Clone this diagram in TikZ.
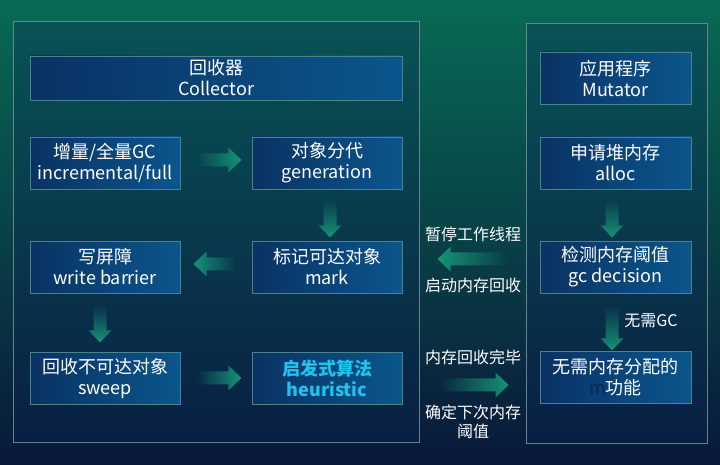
\documentclass[tikz,border=0pt]{standalone}
\usepackage{fontspec}
\setmainfont{Noto Sans CJK SC}
\usetikzlibrary{calc,fadings}
\definecolor{bgtop}{RGB}{8,106,84}
\definecolor{bgmid}{RGB}{11,60,88}
\definecolor{bgbot}{RGB}{9,24,58}
\definecolor{boxl}{RGB}{10,50,100}
\definecolor{boxr}{RGB}{10,86,140}
\definecolor{boxline}{RGB}{78,130,138}
\definecolor{frameline}{RGB}{110,140,150}
\definecolor{framefill}{RGB}{10,40,90}
\definecolor{arrc}{RGB}{22,148,118}
\definecolor{heur}{RGB}{30,195,240}
\definecolor{ghost}{RGB}{12,40,80}
\newcommand\rarrow[2]{\begin{scope}[shift={#1}]\fill[arrc,path fading=west] (0,-6.5) -- ({#2-13},-6.5) -- ({#2-13},-12.5) -- (#2,0) -- ({#2-13},12.5) -- ({#2-13},6.5) -- (0,6.5) -- cycle;\end{scope}}
\newcommand\larrow[2]{\begin{scope}[shift={#1}]\fill[arrc,path fading=east] (0,-6.5) -- ({-#2+13},-6.5) -- ({-#2+13},-12.5) -- (-#2,0) -- ({-#2+13},12.5) -- ({-#2+13},6.5) -- (0,6.5) -- cycle;\end{scope}}
\newcommand\darrow[2]{\begin{scope}[shift={#1}]\fill[arrc,path fading=north] (-6.5,0) -- (-6.5,{#2-12}) -- (-11.5,{#2-12}) -- (0,#2) -- (11.5,{#2-12}) -- (6.5,{#2-12}) -- (6.5,0) -- cycle;\end{scope}}
\begin{document}
\begin{tikzpicture}[x=1pt,y=-1pt,
  box/.style={draw=boxline, line width=0.8pt, left color=boxl, right color=boxr,
    minimum width=150pt, minimum height=52pt, text=white, align=center,
    font=\fontsize{18}{21}\selectfont, inner sep=0pt},
  frame/.style={draw=frameline, line width=0.8pt, fill=framefill, fill opacity=0.3, draw opacity=0.9},
  lbl/.style={text=white, font=\fontsize{16}{19}\selectfont, inner sep=0pt, align=center}]
\useasboundingbox (0,0) rectangle (720,465);
\shade[top color=bgtop, middle color=bgmid, bottom color=bgbot] (0,0) rectangle (720,465);
% frames
\node[frame, minimum width=406pt, minimum height=421pt] (L) at (216,231.5) {};
\node[frame, minimum width=181pt, minimum height=420pt] (R) at (616.5,233) {};
% left boxes
\node[box, minimum width=372pt, minimum height=44pt] (col) at (216,78) {回收器\\Collector};
\node[box] (inc) at (105,163) {增量/全量GC\\incremental/full};
\node[box] (gen) at (327,163) {对象分代\\generation};
\node[box] (wb) at (105,267) {写屏障\\write barrier};
\node[box] (mark) at (327,267) {标记可达对象\\mark};
\node[box] (sweep) at (105,378) {回收不可达对象\\sweep};
\node[box, text=heur, font=\fontsize{18}{21}\selectfont\bfseries] (heu) at (327,378) {启发式算法\\heuristic};
% right boxes
\node[box, minimum width=151pt] (mut) at (615.5,78) {应用程序\\Mutator};
\node[box, minimum width=151pt] (alloc) at (615.5,163) {申请堆内存\\alloc};
\node[box, minimum width=151pt] (gcd) at (615.5,267) {检测内存阈值\\gc decision};
\node[box, minimum width=151pt] (no) at (615.5,377.5) {无需内存分配的\\{\color{ghost}m}功能};
% arrows
\rarrow{($(inc.east)+(16,-3)$)}{45}
\rarrow{($(sweep.east)+(16,0)$)}{45}
\larrow{($(mark.west)+(-16,-3)$)}{42}
\darrow{($(gen.south)+(3,10)$)}{38}
\darrow{($(wb.south)+(-5,12)$)}{37}
\darrow{($(alloc.south)+(-3.5,11)$)}{37}
\darrow{($(gcd.south)+(-3.5,12)$)}{45}
\larrow{($(gcd.west)+(-32,-8)$)}{70}
\rarrow{($(no.west)+(-100,7.5)$)}{69}
% labels
\node[lbl] (l1) at (473,234) {暂停工作线程};
\node[lbl] (l2) at (473,285) {启动内存回收};
\node[lbl] (l3) at (473,357) {内存回收完毕};
\node[lbl] (l4) at (473,422) {确定下次内存\\阈值};
\node[lbl] (l5) at (651,321) {无需GC};
\end{tikzpicture}
\end{document}
